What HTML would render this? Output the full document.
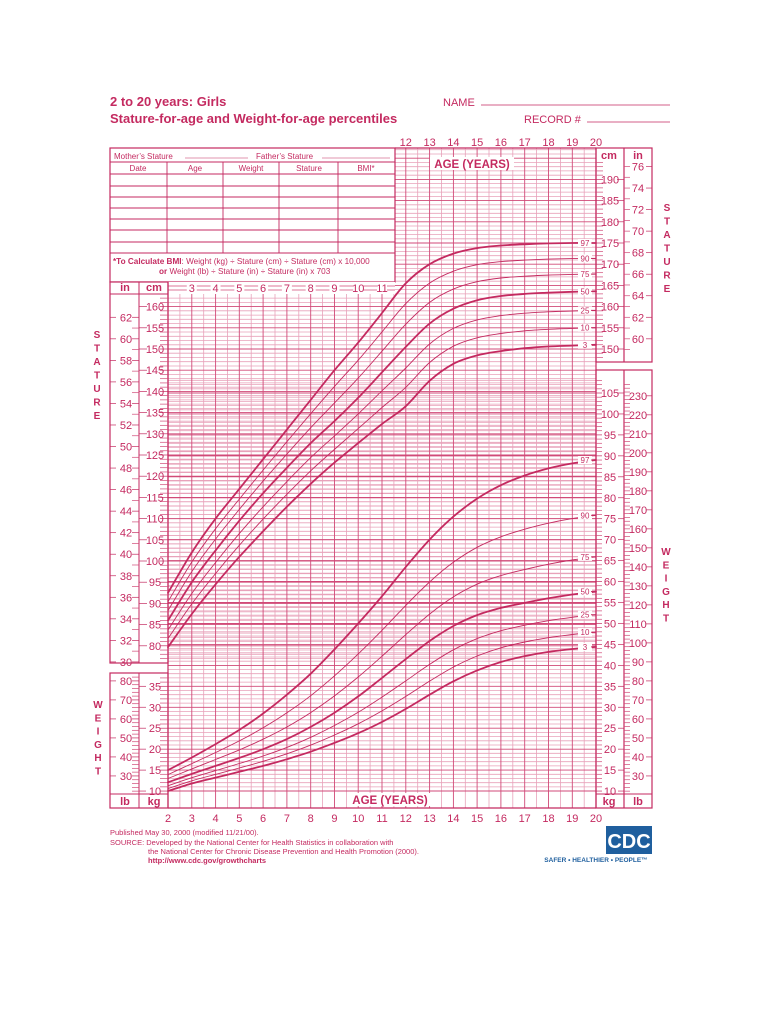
<!DOCTYPE html>
<html><head><meta charset="utf-8">
<style>
html,body{margin:0;padding:0;background:#fff;}
body{width:768px;height:1024px;overflow:hidden;font-family:"Liberation Sans",Arial,sans-serif;}
svg{display:block}
</style></head>
<body>
<svg id="s" width="768" height="1024" viewBox="0 0 768 1024" xmlns="http://www.w3.org/2000/svg" font-family="Liberation Sans, Arial, sans-serif">
<rect width="768" height="1024" fill="#fff"/>
<g id="grid"></g>
<g id="over"></g>
<g id="curves" fill="none" stroke="#c42a60" stroke-linecap="round"></g>
<g id="txt" fill="#c42a60"></g>
</svg>
<script>
const NS="http://www.w3.org/2000/svg";
const X=a=>168+(a-2)*23.78;
const YS=cm=>349-(cm-150)*4.24;
const YW=kg=>393-(kg-105)*4.19;
const C="#c42a60", DK="#d14a78", LT="#e8a2ba";
function el(parent,tag,attrs,text){const e=document.createElementNS(NS,tag);for(const k in attrs)e.setAttribute(k,attrs[k]);if(text!==undefined)e.textContent=text;document.getElementById(parent).appendChild(e);return e;}
function line(p,x1,y1,x2,y2,c,w){el(p,'line',{x1,y1,x2,y2,stroke:c,'stroke-width':w});}
function rect(p,x,y,w,h,fill,stroke,sw){el(p,'rect',{x,y,width:w,height:h,fill:fill||'none',stroke:stroke||'none','stroke-width':sw||0});}
function text(p,x,y,s,size,anchor,weight,fill){el(p,'text',{x,y,'font-size':size,'text-anchor':anchor||'start','font-weight':weight||'normal',fill:fill||C},s);}

let dl="",ll="";
for(let a=2;a<=20.001;a+=0.5){
  const x=X(a).toFixed(1);
  const y0=X(a)>=394?148:294;
  const s=`M${x} ${y0}V808`;
  if(Math.abs(a-Math.round(a))<0.01) dl+=s; else ll+=s;
}
for(let cm=77;cm<=197;cm++){
  const y=YS(cm); if(y<148||y>663) continue;
  const x0=(y<294)?395:168;
  const s=`M${x0} ${y.toFixed(1)}H596`;
  if(cm%5==0) dl+=s; else ll+=s;
}
for(let kg=10;kg<=108;kg++){
  const y=YW(kg);
  const s=`M168 ${y.toFixed(1)}H596`;
  if(kg%5==0) dl+=s; else ll+=s;
}
el('grid','path',{d:ll,stroke:LT,'stroke-width':0.8,fill:'none'});
el('grid','path',{d:dl,stroke:DK,'stroke-width':0.9,fill:'none'});

rect('over',110,148,285,134,'#fff',C,1.2);
line('over',110,162,395,162,C,1);
line('over',110,174,395,174,C,1);
[186,197,208,219,230,242,253].forEach(y=>line('over',110,y,395,y,C,0.9));
[167,223,279,338].forEach(x=>line('over',x,162,x,253,C,0.9));
line('over',185,158,248,158,C,0.6);
line('over',322,158,390,158,C,0.6);
rect('over',110,282,285,12,'#fff','none',0);
line('over',168,286,395,286,DK,0.8);line('over',168,290,395,290,DK,0.8);
rect('over',110,282,58,381,'#fff',C,1.2);
line('over',139,282,139,663,C,1);
line('over',110,294,168,294,C,1);
rect('over',110,673,58,135,'#fff',C,1.2);
line('over',139,673,139,808,C,1);
line('over',110,794,168,794,C,1);
line('over',168,282,168,808,C,1.2);
rect('over',596,148,56,214,'#fff',C,1.2);
line('over',624,148,624,362,C,1.2);
rect('over',596,370,56,438,'#fff',C,1.2);
line('over',624,370,624,808,C,1.2);
line('over',596,794,652,794,C,1);
line('over',168,808,596,808,C,1.2);
line('over',395,148,596,148,C,1.2);
line('over',596,148,596,808,C,1.2);

for(let cm=77;cm<=162;cm++){const y=YS(cm);if(y<296||y>661)continue;
  line('over',160,y,168,y,cm%5==0?C:DK,0.7); if(cm%5==0){line('over',139,y,147,y,C,0.7);}}
for(let cm=80;cm<=160;cm+=5) text('txt',155,YS(cm)+4,String(cm),11,'middle');
for(let i=30;i<=62;i++){const y=YS(i*2.54);if(y<296||y>664)continue;line('over',132,y,139,y,i%2==0?C:DK,0.7);if(i%2==0){line('over',110,y,116,y,C,0.7);text('txt',126,y+4,String(i),11,'middle');}}
text('txt',125,291,'in',11,'middle','bold');text('txt',154,291,'cm',11,'middle','bold');
for(let a=3;a<=11;a++){rect('txt',X(a)-5,283,10,10,'#fff');text('txt',X(a),292,String(a),11,'middle');}
for(let kg=10;kg<=37;kg++){const y=YW(kg);line('over',160,y,168,y,kg%5==0?C:DK,0.7);if(kg%5==0){line('over',139,y,146,y,C,0.7);text('txt',155,y+4,String(kg),11,'middle');}}
for(let lb=22;lb<=82;lb+=2){const y=YW(lb*0.4536);if(y<676||y>792)continue;line('over',132,y,139,y,lb%10==0?C:DK,0.7);if(lb%10==0){line('over',110,y,116,y,C,0.7);text('txt',126,y+4,String(lb),11,'middle');}}
text('txt',125,805,'lb',11,'middle','bold');text('txt',154,805,'kg',11,'middle','bold');
for(let cm=146;cm<=197;cm++){const y=YS(cm);if(y<162||y>360)continue;line('over',596,y,603,y,cm%5==0?C:DK,0.7);if(cm%5==0){line('over',617,y,624,y,C,0.7);text('txt',610,y+4,String(cm),11,'middle');}}
for(let i=58;i<=77;i++){const y=YS(i*2.54);if(y<162||y>360)continue;line('over',624,y,630,y,DK,0.7);if(i%2==0){line('over',646,y,652,y,C,0.7);text('txt',638,y+4,String(i),11,'middle');}}
text('txt',609,159,'cm',11,'middle','bold');text('txt',638,159,'in',11,'middle','bold');
for(let kg=9;kg<=108;kg++){const y=YW(kg);if(y<374||y>792)continue;line('over',596,y,602,y,kg%5==0?C:DK,0.7);if(kg%5==0){line('over',618,y,624,y,C,0.7);text('txt',610,y+4,String(kg),11,'middle');}}
for(let lb=22;lb<=236;lb+=2){const y=YW(lb*0.4536);if(y<374||y>792)continue;line('over',624,y,630,y,DK,0.7);if(lb%10==0){line('over',646,y,652,y,C,0.7);text('txt',638,y+4,String(lb),11,'middle');}}
text('txt',609,805,'kg',11,'middle','bold');text('txt',638,805,'lb',11,'middle','bold');

const ages=[2,3,4,5,6,7,8,9,10,11,12,13,14,15,16,17,18,19,20];
const S3=[79.7,87.5,94.5,101,107,112.8,118.2,123.2,127.8,132.3,136.5,142.5,146.5,148.5,149.5,150.2,150.6,150.8,151];
const S50=[86,95,102.5,109.5,116,122,127.8,133,138.5,144.5,150.5,156,159.5,161.5,162.5,163,163.3,163.5,163.6];
const S97=[92.5,102,110,117,124,131,138,145,151.5,158.5,165.5,170,172.5,173.8,174.4,174.7,174.9,175,175];
const W3=[10.0,11.8,13.2,14.6,16.0,17.6,19.4,21.5,23.8,26.5,29.6,33.0,36.2,38.8,40.8,42.2,43.2,43.9,44.4];
const W50=[12.1,14.1,16.0,17.9,20.0,22.4,25.3,28.7,32.6,37.0,41.5,45.8,49.4,52.0,53.7,54.9,56.0,56.9,57.6];
const W97=[15.0,18.0,21.2,24.6,28.5,33.0,38.0,43.8,50.0,56.5,63.5,70.0,75.5,79.8,83.0,85.3,87.0,88.2,89.0];
const pcts=[[3,-1.88],[10,-1.28],[25,-0.67],[50,0],[75,0.67],[90,1.28],[97,1.88]];
function pathFrom(pts){
  let d=`M${pts[0][0].toFixed(1)} ${pts[0][1].toFixed(1)}`;
  for(let i=0;i<pts.length-1;i++){
    const p0=pts[i-1]||pts[i],p1=pts[i],p2=pts[i+1],p3=pts[i+2]||pts[i+1];
    const c1=[p1[0]+(p2[0]-p0[0])/6,p1[1]+(p2[1]-p0[1])/6];
    const c2=[p2[0]-(p3[0]-p1[0])/6,p2[1]-(p3[1]-p1[1])/6];
    d+=`C${c1[0].toFixed(1)} ${c1[1].toFixed(1)} ${c2[0].toFixed(1)} ${c2[1].toFixed(1)} ${p2[0].toFixed(1)} ${p2[1].toFixed(1)}`;
  }
  return d;
}
const labStat=[],labW=[];
pcts.forEach(([p,z])=>{
  const thick=(p==3||p==50||p==97);
  const sp=ages.map((a,i)=>{const v=S50[i]+(z/1.88)*(z>0?S97[i]-S50[i]:S50[i]-S3[i]);return [X(a),YS(v)];});
  const wp=ages.map((a,i)=>{const r0=1/W50[i];const r=z>=0? r0-(z/1.88)*(r0-1/W97[i]) : r0+(-z/1.88)*(1/W3[i]-r0);return [X(a),YW(1/r)];});
  el('curves','path',{d:pathFrom(sp),'stroke-width':thick?1.8:0.9});
  el('curves','path',{d:pathFrom(wp),'stroke-width':thick?1.8:0.9});
  labStat.push([p,sp[18][1]]);labW.push([p,wp[18][1]]);
});
[...labStat,...labW].forEach(([p,y])=>{rect('txt',578,y-4,14,8,'#fff');text('txt',585,y+3,String(p),8,'middle');line('txt',591,y,596,y,C,1);});

text('txt',110,106,'2 to 20 years: Girls',13,'start','bold');
text('txt',110,123,'Stature-for-age and Weight-for-age percentiles',13,'start','bold');
text('txt',443,106,'NAME',11);line('txt',481,105,670,105,C,0.7);
text('txt',524,123,'RECORD #',11);line('txt',587,122,670,122,C,0.7);
for(let a=12;a<=20;a++) text('txt',X(a),146,String(a),11,'middle');
for(let a=2;a<=20;a++) text('txt',X(a),822,String(a),11,'middle');
rect('txt',430,157,84,13,'#fff');text('txt',472,168,'AGE (YEARS)',11.5,'middle','bold');
rect('txt',349,793,82,13,'#fff');text('txt',390,804,'AGE (YEARS)',11.5,'middle','bold');
text('txt',114,159,'Mother’s Stature',8);text('txt',256,159,'Father’s Stature',8);
[['Date',138],['Age',195],['Weight',251],['Stature',309],['BMI*',366]].forEach(([s,x])=>text('txt',x,171,s,8,'middle'));
const t1=el('txt','text',{x:113,y:264,'font-size':8.2});t1.innerHTML='<tspan font-weight="bold">*To Calculate BMI</tspan>: Weight (kg) ÷ Stature (cm) ÷ Stature (cm) x 10,000';
const t2=el('txt','text',{x:159,y:274,'font-size':8.2});t2.innerHTML='<tspan font-weight="bold">or</tspan> Weight (lb) ÷ Stature (in) ÷ Stature (in) x 703';
function vert(x,y,s,dy){[...s].forEach((c,i)=>text('txt',x,y+i*dy,c,10,'middle','bold'));}
vert(97,338,'STATURE',13.5);vert(667,211,'STATURE',13.5);
vert(98,708,'WEIGHT',13.3);vert(666,555,'WEIGHT',13.3);
text('txt',110,835,'Published May 30, 2000 (modified 11/21/00).',7.5);
text('txt',110,845,'SOURCE: Developed by the National Center for Health Statistics in collaboration with',7.5);
text('txt',148,854,'the National Center for Chronic Disease Prevention and Health Promotion (2000).',7.5);
text('txt',148,863,'http://www.cdc.gov/growthcharts',7.5,'start','bold');
rect('txt',606,826,46,28,'#1f5f9e');
text('txt',629,848,'CDC',20,'middle','bold','#fff');
text('txt',596,862,'SAFER • HEALTHIER • PEOPLE™',6.5,'middle','bold','#1f5f9e');
</script>
</body></html>
